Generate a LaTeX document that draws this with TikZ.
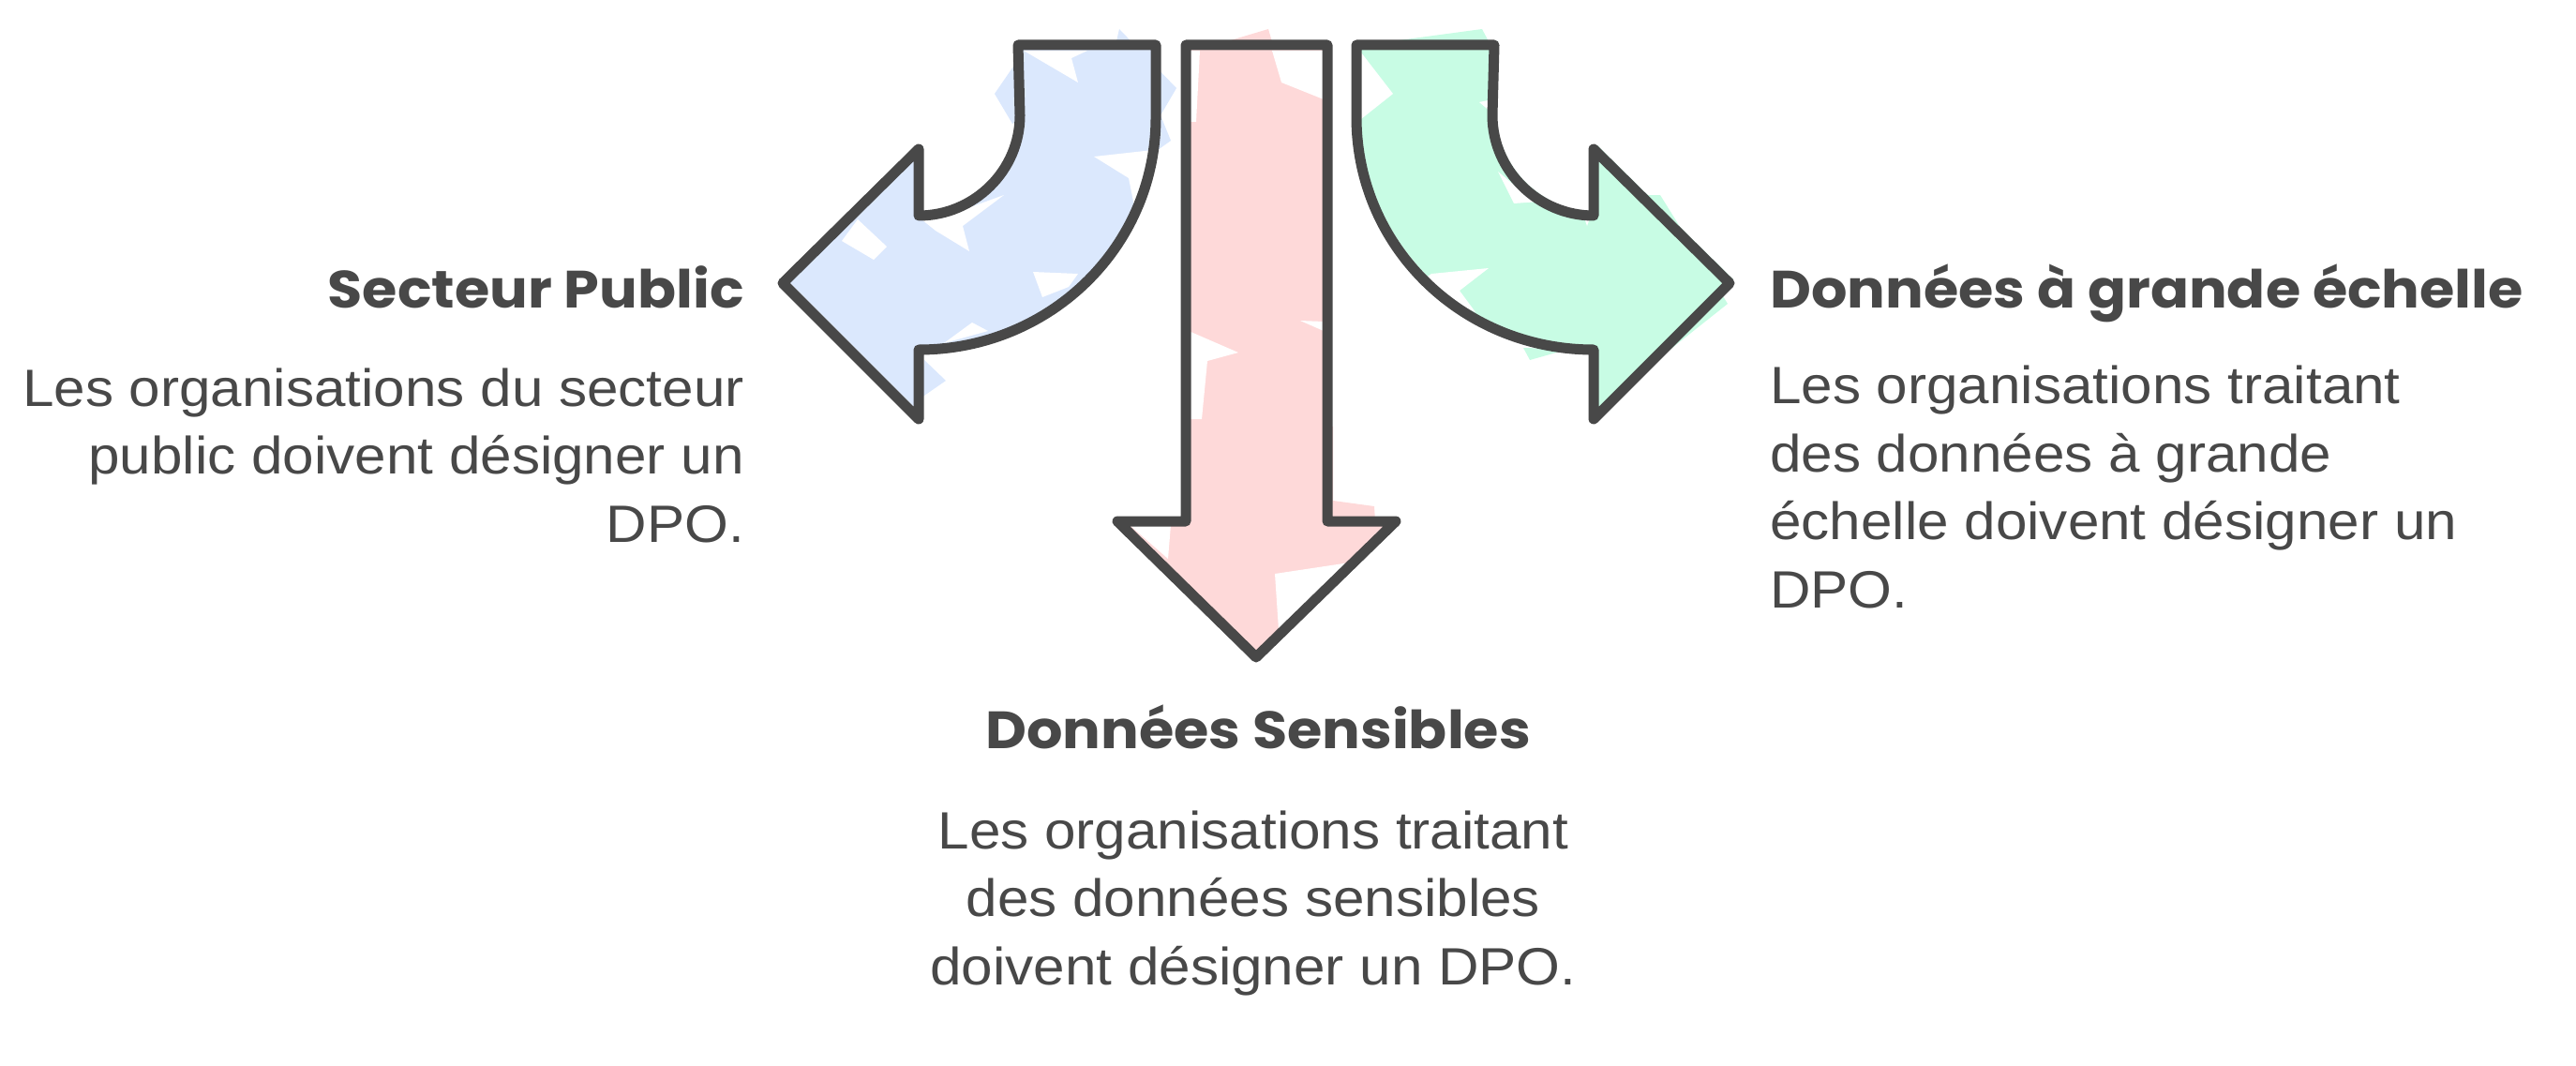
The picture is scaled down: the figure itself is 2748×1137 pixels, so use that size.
\documentclass[tikz,border=0pt]{standalone}
\usepackage{fontspec}
\setmainfont{Liberation Sans}[FakeStretch=1.075]
\newfontfamily\titlefont{Poppins}[FakeStretch=1.08]
\definecolor{ink}{RGB}{72,72,72}
\definecolor{fillblue}{RGB}{219,232,253}
\definecolor{fillred}{RGB}{254,217,217}
\definecolor{fillgreen}{RGB}{200,252,228}
\begin{document}
\begin{tikzpicture}[x=1pt,y=-1pt,
  outline/.style={draw=ink,line width=11pt,line join=round,line cap=round},
  notch/.style={fill=white},
  ttl/.style={inner sep=0pt,text=ink,font=\titlefont\bfseries\fontsize{56}{64}\selectfont},
  body/.style={inner sep=0pt,text=ink,font=\fontsize{56}{72.5}\selectfont}]
\useasboundingbox (0,0) rectangle (2748,1137);
% ---- fills ----
% blue
\fill[fillblue,shift={(4,-4)}] (1086,48) -- (1233,48) -- (1233,125) .. controls (1233,263) and (1120,373) .. (980,373) -- (980,447) -- (835,302) -- (980,159) -- (980,230) .. controls (1039,230) and (1088,182) .. (1088,123) -- cycle;
\fill[fillblue] (1194,31) -- (1255,94) -- (1238,123) -- (1249,150) -- (1228,165) -- (1228,48) -- (1190,48) -- cycle;
\fill[fillblue] (1085,65) -- (1061,100) -- (1080,132) -- (1090,127) -- cycle;
\fill[fillblue] (986,384) -- (1009,406) -- (983,424) -- cycle;
\fill[notch] (1092,54) -- (1150,88) -- (1143,62) -- (1160,54) -- cycle;
\fill[notch] (1167,167) -- (1204,190) -- (1212,230) -- (1224,200) -- (1230,160) -- cycle;
\fill[notch] (983,234) -- (1024,225) -- (1071,208) -- (1027,241) -- (1034,268) -- (998,246) -- cycle;
\fill[notch] (915,234) -- (946,263) -- (932,277) -- (898,257) -- cycle;
\fill[notch] (1102,290) -- (1112,317) -- (1140,306) -- (1150,292) -- cycle;
\fill[notch] (1037,344) -- (1054,353) -- (1007,366) -- cycle;
% red
\fill[fillred,shift={(3,-3)}] (1265,48) -- (1416,48) -- (1416,556) -- (1489,556) -- (1340,701) -- (1192,556) -- (1265,556) -- cycle;
\fill[fillred] (1296,48) -- (1353,31) -- (1358,48) -- cycle;
\fill[fillred] (1413,455) -- (1422,455) -- (1422,534) -- (1466,540) -- (1467,556) -- (1413,556) -- cycle;
\fill[notch] (1357,54) -- (1367,88) -- (1412,106) -- (1412,54) -- cycle;
\fill[notch] (1387,342) -- (1412,343) -- (1412,353) -- cycle;
\fill[notch] (1268,353) -- (1321,376) -- (1288,385) -- (1282,447) -- (1268,447) -- cycle;
\fill[notch] (1268,54) -- (1280,54) -- (1276,130) -- (1268,130) -- cycle;
\fill[notch] (1360,612) -- (1440,600) -- (1364,672) -- cycle;
\fill[notch] (1205,560) -- (1249,560) -- (1246,596) -- cycle;
% green
\fill[fillgreen,shift={(4,-4)}] (1594,48) -- (1447,48) -- (1447,125) .. controls (1447,263) and (1560,373) .. (1700,373) -- (1700,447) -- (1845,302) -- (1700,159) -- (1700,230) .. controls (1641,230) and (1592,182) .. (1592,123) -- cycle;
\fill[fillgreen] (1455,48) -- (1581,31) -- (1590,48) -- cycle;
\fill[fillgreen] (1752,208) -- (1771,208) -- (1843,324) -- (1731,413) -- (1724,400) -- (1826,318) -- cycle;
\fill[fillgreen] (1625,371) -- (1632,384) -- (1710,362) -- (1703,373) -- cycle;
\fill[notch] (1452,56) -- (1486,100) -- (1452,127) -- cycle;
\fill[notch] (1578,109) -- (1597,105) -- (1597,125) -- cycle;
\fill[notch] (1598,183) -- (1615,217) -- (1683,212) -- (1693,241) -- (1697,230) -- (1656,221) -- (1622,203) -- cycle;
\fill[notch] (1527,292) -- (1588,286) -- (1557,310) -- (1574,333) -- (1540,319) -- (1520,297) -- cycle;
% ---- outlines ----
\draw[outline] (1086,48) -- (1233,48) -- (1233,125) .. controls (1233,263) and (1120,373) .. (980,373) -- (980,447) -- (835,302) -- (980,159) -- (980,230) .. controls (1039,230) and (1088,182) .. (1088,123) -- cycle;
\draw[outline] (1265,48) -- (1416,48) -- (1416,556) -- (1489,556) -- (1340,701) -- (1192,556) -- (1265,556) -- cycle;
\draw[outline] (1594,48) -- (1447,48) -- (1447,125) .. controls (1447,263) and (1560,373) .. (1700,373) -- (1700,447) -- (1845,302) -- (1700,159) -- (1700,230) .. controls (1641,230) and (1592,182) .. (1592,123) -- cycle;
% ---- texts ----
\node[ttl,anchor=base east] (t1) at (794,328) {Secteur Public};
\node[body,anchor=base east,align=right] (b1) at (794,578) {Les organisations du secteur\\public doivent désigner un\\DPO.};
\node[ttl,anchor=base] (t2) at (1342,798) {Données Sensibles};
\node[body,anchor=base,align=center] (b2) at (1337,1050) {Les organisations traitant\\des données sensibles\\doivent désigner un DPO.};
\node[ttl,anchor=base west] (t3) at (1888,328) {Données à grande échelle};
\node[body,anchor=base west,align=left] (b3) at (1888,648) {Les organisations traitant\\des données à grande\\échelle doivent désigner un\\DPO.};
\end{tikzpicture}
\end{document}
